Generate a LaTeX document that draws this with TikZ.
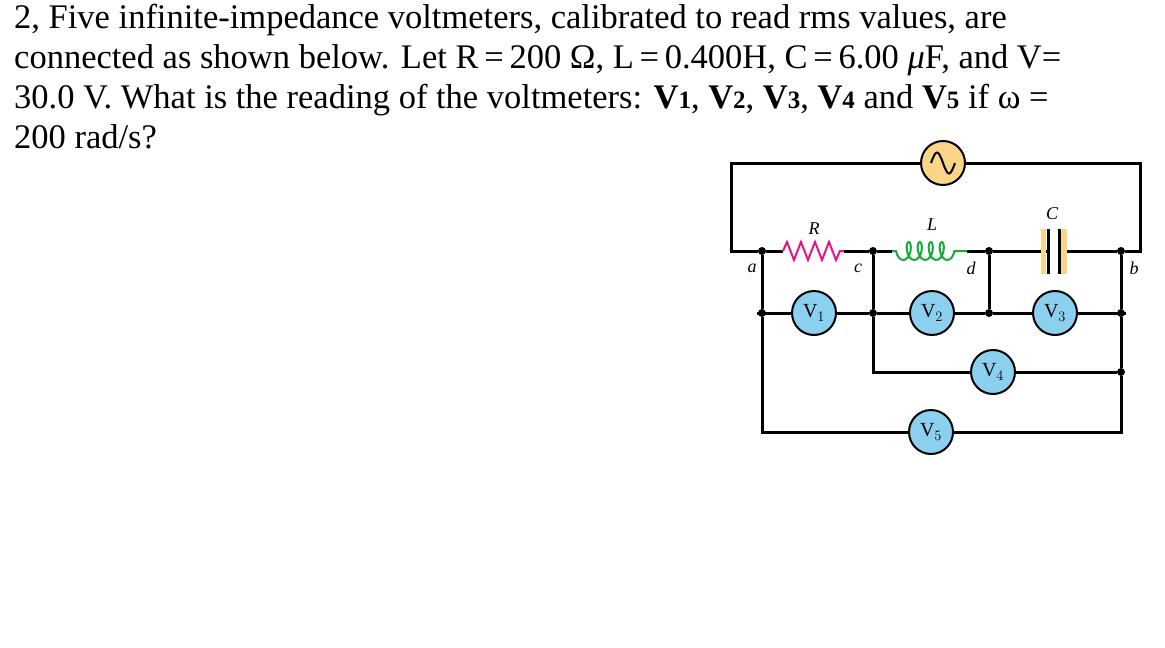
\documentclass[tikz,border=0pt]{standalone}
\usepackage{fontspec}
\setmainfont{Liberation Serif}
\usetikzlibrary{decorations.pathmorphing}
\definecolor{meterblue}{RGB}{140,208,240}
\definecolor{srcyel}{RGB}{250,212,135}
\definecolor{resmag}{RGB}{230,20,140}
\definecolor{indgreen}{RGB}{20,170,60}
\begin{document}
\begin{tikzpicture}[x=1pt,y=-1pt,
  wire/.style={line width=3pt,black},
  meter/.style={circle,draw=black,line width=2pt,fill=meterblue,minimum size=44pt,inner sep=0pt,font=\fontsize{20}{20}\selectfont},
  dot/.style={circle,fill=black,inner sep=0pt,minimum size=8pt},
  lbl/.style={font=\fontsize{18}{18}\selectfont\itshape},
  qline/.style={anchor=base west,inner sep=0pt,font=\fontsize{34.5}{36}\selectfont}]
\useasboundingbox (0,0) rectangle (1165,648);
% question text
\node[qline] (t1) at (14,28) {2, Five infinite-impedance voltmeters, calibrated to read rms values, are};
\node[qline] (t2) at (14,68) {connected as shown below. Let R\,=\,200 Ω, L\,=\,0.400H, C\,=\,6.00 \textit{μ}F, and V=};
\node[qline] (t3) at (14,108) {30.0 V. What is the reading of the voltmeters: \textbf{V}\textbf{\fontsize{25}{25}\selectfont 1}, \textbf{V}\textbf{\fontsize{25}{25}\selectfont 2}, \textbf{V}\textbf{\fontsize{25}{25}\selectfont 3}, \textbf{V}\textbf{\fontsize{25}{25}\selectfont 4} and \textbf{V}\textbf{\fontsize{25}{25}\selectfont 5} if ω =};
\node[qline] (t4) at (14,148) {200 rad/s?};
% coordinates
\coordinate (tl) at (731,163);
\coordinate (tr) at (1140,163);
\coordinate (ml) at (731,251);
\coordinate (mr) at (1140,251);
\node[dot] (a) at (762,251) {};
\node[dot] (c) at (873,251) {};
\node[dot] (d) at (989,251) {};
\node[dot] (b) at (1121,251) {};
\node[dot] (am) at (762,313) {};
\node[dot] (cm) at (873,313) {};
\node[dot] (dm) at (989,313) {};
\node[dot] (bm) at (1121,313) {};
\node[dot] (b4) at (1121,372) {};
\coordinate (c4) at (873,372);
\coordinate (a5) at (762,432);
\coordinate (b5) at (1121,432);
\coordinate (r1) at (783,251); \coordinate (r2) at (844,251);
\coordinate (l1) at (892,251); \coordinate (l2) at (967,251);
\coordinate (k1) at (1048,251); \coordinate (k2) at (1059,251);
% source
\node[circle,draw=black,line width=2pt,fill=srcyel,minimum size=44pt,inner sep=0pt] (src) at (943,163) {};
\draw[line width=2pt] ([xshift=-12pt]src.center) .. controls +(5,-14) and +(-5,-14) .. (src.center) .. controls +(5,14) and +(-5,14) .. ([xshift=12pt]src.center);
% wires
\draw[wire] (src) -- (tl) -- (ml) -- (a) -- (r1);
\draw[wire] (src) -- (tr) -- (mr) -- (b) -- (k2);
\draw[wire] (r2) -- (c) -- (l1);
\draw[wire] (l2) -- (d) -- (k1);
% resistor
\draw[resmag,line width=2pt] (r1) -- ++(4,-9) -- ++(7,18) -- ++(7,-18) -- ++(7,18) -- ++(7,-18) -- ++(7,18) -- ++(7,-18) -- ++(7,18) -- ++(4,-9) -- (r2);
% inductor
\draw[indgreen,line width=2pt,decorate,decoration={coil,mirror,aspect=0.5,segment length=11pt,amplitude=9pt,pre length=4pt,post length=4pt}] (l1) -- (l2);
% capacitor
\fill[srcyel] (1041,229) rectangle (1046,274);
\fill[srcyel] (1061,229) rectangle (1067,274);
\draw[line width=3pt] (1048,229) -- (1048,274);
\draw[line width=3pt] (1059,229) -- (1059,274);
% labels
\node[lbl] (lR) at (814,229) {R};
\node[lbl] (lL) at (932,225) {L};
\node[lbl] (lC) at (1052,214) {C};
\node[lbl] (la) at (752,268) {a};
\node[lbl] (lc) at (858,268) {c};
\node[lbl] (ld) at (971,268) {d};
\node[lbl] (lb) at (1134,268) {b};
% meters
\node[meter] (V1) at (814,313) {V$_1$};
\node[meter] (V2) at (932,313) {V$_2$};
\node[meter] (V3) at (1055,313) {V$_3$};
\node[meter] (V4) at (993,372) {V$_4$};
\node[meter] (V5) at (931,432) {V$_5$};
\draw[wire] (a) -- (am) -- (a5) -- (V5) -- (b5) -- (b4) -- (bm) -- (b);
\draw[wire] ([xshift=-5pt]am.center) -- (V1) -- (cm) -- (V2) -- (dm) -- (V3) -- ([xshift=5pt]bm.center);
\draw[wire] (c) -- (cm) -- (c4) -- (V4) -- (b4);
\draw[wire] (d) -- (dm);
\end{tikzpicture}
\end{document}
